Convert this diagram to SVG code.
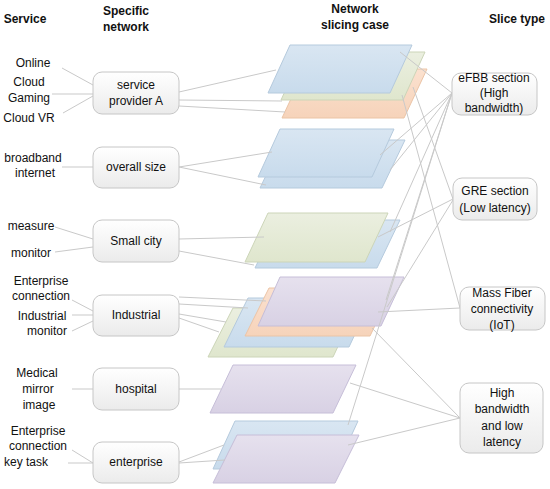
<svg xmlns="http://www.w3.org/2000/svg" width="550" height="489" viewBox="0 0 550 489">
<defs>
<linearGradient id="gBox" x1="0" y1="0" x2="0" y2="1"><stop offset="0" stop-color="#ffffff"/><stop offset="1" stop-color="#ebebeb"/></linearGradient>
<linearGradient id="gBlue" x1="0" y1="0" x2="0" y2="1"><stop offset="0" stop-color="#d9e6f2"/><stop offset="1" stop-color="#c8dbec"/></linearGradient>
<linearGradient id="gGreen" x1="0" y1="0" x2="0" y2="1"><stop offset="0" stop-color="#ebefe0"/><stop offset="1" stop-color="#dfe6cd"/></linearGradient>
<linearGradient id="gOrange" x1="0" y1="0" x2="0" y2="1"><stop offset="0" stop-color="#fbe1cf"/><stop offset="1" stop-color="#f6d3ba"/></linearGradient>
<linearGradient id="gPurple" x1="0" y1="0" x2="0" y2="1"><stop offset="0" stop-color="#e6e1ee"/><stop offset="1" stop-color="#d8d1e4"/></linearGradient>
</defs>
<style>
text{font-family:"Liberation Sans",Arial,sans-serif;font-size:12px;fill:#111;text-anchor:middle}
.h{font-weight:bold}
.box{fill:url(#gBox);stroke:#c6c6c6;stroke-width:1}
.blue{fill:url(#gBlue);stroke:#b5cadd;stroke-width:1}
.green{fill:url(#gGreen);stroke:#ccd5b8;stroke-width:1}
.orange{fill:url(#gOrange);stroke:#ebc4a6;stroke-width:1}
.purple{fill:url(#gPurple);stroke:#c6bed8;stroke-width:1}
.c line{stroke:#c9c9c9;stroke-width:1}
</style>

<g id="headers">
<text class="h" x="25" y="23">Service</text>
<text class="h" x="126" y="15">Specific</text>
<text class="h" x="126" y="31">network</text>
<text class="h" x="355" y="13">Network</text>
<text class="h" x="355" y="29">slicing case</text>
<text class="h" x="517" y="23">Slice type</text>
</g>

<g id="services">
<text x="33" y="67">Online</text>
<text x="29" y="86">Cloud</text>
<text x="29" y="102">Gaming</text>
<text x="29" y="122">Cloud VR</text>
<text x="33" y="162">broadband</text>
<text x="35" y="177">internet</text>
<text x="31" y="230">measure</text>
<text x="31" y="257">monitor</text>
<text x="41" y="285">Enterprise</text>
<text x="41" y="300">connection</text>
<text x="42" y="320">Industrial</text>
<text x="47" y="335">monitor</text>
<text x="37" y="377">Medical</text>
<text x="38" y="393">mirror</text>
<text x="39" y="409">image</text>
<text x="38" y="435">Enterprise</text>
<text x="38" y="450">connection</text>
<text x="26" y="466">key task</text>
</g>

<g id="slices">
<polygon class="orange" points="305,69 427,69 404,118 282,118"/>
<polygon class="green" points="303,52 425,52 403,100 281,100"/>
<polygon class="blue" points="290,45 412,45 390,93 268,93"/>

<polygon class="blue" points="283,140 405,140 382,188 260,188"/>
<polygon class="blue" points="280,129 394,129 372,177 258,177"/>

<polygon class="blue" points="278,220 400,220 377,268 255,268"/>
<polygon class="green" points="268,213 388,213 365,262 245,262"/>

<polygon class="green" points="233,308 356,308 333,357 208,357"/>
<polygon class="blue" points="248,298 372,298 349,347 224,347"/>
<polygon class="orange" points="269,288 393,288 370,336 245,336"/>
<polygon class="purple" points="280,277 404,277 381,326 258,326"/>

<polygon class="purple" points="233,365 356,365 333,413 210,413"/>

<polygon class="blue" points="235,421 358,421 336,469 213,469"/>
<polygon class="purple" points="237,435 359,435 335,483 213,483"/>
</g>

<g id="connectors" class="c">
<line x1="62" y1="68" x2="93" y2="85"/>
<line x1="52" y1="94" x2="93" y2="94"/>
<line x1="63" y1="113" x2="93" y2="96"/>
<line x1="62" y1="167" x2="93" y2="167"/>
<line x1="55" y1="227" x2="93" y2="239"/>
<line x1="55" y1="252" x2="93" y2="247"/>
<line x1="72" y1="300" x2="93" y2="311"/>
<line x1="72" y1="315" x2="93" y2="315"/>
<line x1="72" y1="331" x2="93" y2="321"/>
<line x1="72" y1="389" x2="93" y2="389"/>
<line x1="72" y1="450" x2="93" y2="463"/>
<line x1="68" y1="463" x2="93" y2="463"/>

<line x1="179" y1="92" x2="276" y2="70"/>
<line x1="179" y1="100" x2="282" y2="101"/>
<line x1="179" y1="106" x2="285" y2="112"/>
<line x1="179" y1="167" x2="272" y2="152"/>
<line x1="179" y1="167" x2="266" y2="185"/>
<line x1="179" y1="239" x2="264" y2="237"/>
<line x1="179" y1="251" x2="254" y2="265"/>
<line x1="179" y1="297" x2="266" y2="301"/>
<line x1="179" y1="304" x2="248" y2="308"/>
<line x1="179" y1="314" x2="226" y2="322"/>
<line x1="179" y1="318" x2="219" y2="332"/>
<line x1="179" y1="389" x2="221" y2="389"/>
<line x1="179" y1="462" x2="224" y2="445"/>
<line x1="179" y1="463" x2="225" y2="460"/>

<line x1="400" y1="52" x2="452" y2="93"/>
<line x1="413" y1="87" x2="453" y2="199"/>
<line x1="402" y1="95" x2="460" y2="308"/>
<line x1="380" y1="155" x2="452" y2="93"/>
<line x1="390" y1="170" x2="452" y2="93"/>
<line x1="390" y1="232" x2="452" y2="93"/>
<line x1="378" y1="237" x2="453" y2="199"/>
<line x1="386" y1="300" x2="452" y2="93"/>
<line x1="387" y1="307" x2="453" y2="200"/>
<line x1="378" y1="312" x2="460" y2="308"/>
<line x1="372" y1="328" x2="460" y2="418"/>
<line x1="350" y1="383" x2="460" y2="418"/>
<line x1="348" y1="425" x2="452" y2="93"/>
<line x1="348" y1="445" x2="460" y2="418"/>
</g>

<g id="node-spa"><rect class="box" x="93" y="72" width="86" height="42" rx="9"/><text x="136" y="89">service</text><text x="136" y="105">provider A</text></g>
<g id="node-overall"><rect class="box" x="93" y="147" width="86" height="41" rx="9"/><text x="136" y="171">overall size</text></g>
<g id="node-smallcity"><rect class="box" x="93" y="220" width="86" height="42" rx="9"/><text x="136" y="245">Small city</text></g>
<g id="node-industrial"><rect class="box" x="93" y="295" width="86" height="41" rx="9"/><text x="136" y="319">Industrial</text></g>
<g id="node-hospital"><rect class="box" x="93" y="368" width="86" height="42" rx="9"/><text x="136" y="393">hospital</text></g>
<g id="node-enterprise"><rect class="box" x="93" y="442" width="86" height="41" rx="9"/><text x="136" y="466">enterprise</text></g>

<g id="node-efbb"><rect class="box" x="452" y="73" width="85" height="42" rx="9"/><text x="494" y="82">eFBB section</text><text x="494" y="97">(High</text><text x="494" y="112">bandwidth)</text></g>
<g id="node-gre"><rect class="box" x="453" y="178" width="84" height="42" rx="9"/><text x="495" y="195">GRE section</text><text x="495" y="212">(Low latency)</text></g>
<g id="node-mass"><rect class="box" x="460" y="287" width="85" height="43" rx="9"/><text x="502" y="297">Mass Fiber</text><text x="502" y="313">connectivity</text><text x="502" y="329">(IoT)</text></g>
<g id="node-hbll"><rect class="box" x="460" y="383" width="83" height="70" rx="9"/><text x="502" y="397">High</text><text x="502" y="413">bandwidth</text><text x="502" y="430">and low</text><text x="502" y="446">latency</text></g>
</svg>
